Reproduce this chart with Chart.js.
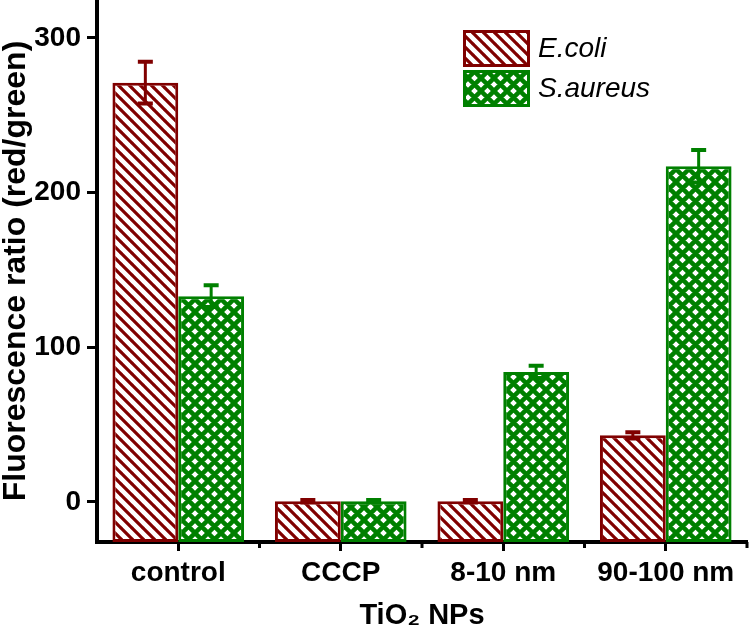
<!DOCTYPE html>
<html>
<head>
<meta charset="utf-8">
<script src="https://cdn.jsdelivr.net/npm/chart.js@4"></script>
<style>
  body { margin: 0; background: #fff; }
</style>
</head>
<body>
<canvas id="barChart" width="750" height="640"></canvas>
<script>
const categories = ['control', 'CCCP', '8-10 nm', '90-100 nm'];
const ecoliValues = [271, 0.3, 0.3, 43];
const ecoliErrors = [13.5, 0.8, 0.8, 2];
const saureusValues = [133, 0.3, 84, 217];
const saureusErrors = [7, 0.8, 4, 10.5];
const yTicks = [0, 100, 200, 300];
const Y_MIN = -26;
const Y_MAX = 324.5;

const RED = '#800000';
const GREEN = '#008000';
const FONT = '"Liberation Sans", Arial, sans-serif';

// hatch fills like the origin plot
function makeHatch(color, size, width, cross) {
  const c = document.createElement('canvas');
  c.width = size;
  c.height = size;
  const g = c.getContext('2d');
  g.fillStyle = '#fff';
  g.fillRect(0, 0, size, size);
  g.strokeStyle = color;
  g.lineWidth = width;
  g.beginPath();
  for (const k of [-size, 0, size]) {
    g.moveTo(k - 1, -1);
    g.lineTo(k + size + 1, size + 1);
    if (cross) {
      g.moveTo(k - 1, size + 1);
      g.lineTo(k + size + 1, -1);
    }
  }
  g.stroke();
  return g.createPattern(c, 'repeat');
}

const errorBars = {
  id: 'errorBars',
  afterDatasetsDraw(chart) {
    const ctx = chart.ctx;
    const y = chart.scales.y;
    chart.data.datasets.forEach((ds, i) => {
      const meta = chart.getDatasetMeta(i);
      meta.data.forEach((bar, j) => {
        const v = ds.data[j];
        const e = ds.errors[j];
        const top = y.getPixelForValue(v + e);
        const bot = y.getPixelForValue(v - e);
        ctx.save();
        ctx.strokeStyle = ds.borderColor;
        ctx.lineWidth = 3;
        ctx.beginPath();
        ctx.moveTo(bar.x, top);
        ctx.lineTo(bar.x, bot);
        ctx.stroke();
        ctx.lineWidth = 4;
        ctx.beginPath();
        ctx.moveTo(bar.x - 7.5, top);
        ctx.lineTo(bar.x + 7.5, top);
        ctx.moveTo(bar.x - 7.5, bot);
        ctx.lineTo(bar.x + 7.5, bot);
        ctx.stroke();
        ctx.restore();
      });
    });
  }
};

const xMinorTicks = {
  id: 'xMinorTicks',
  afterDraw(chart) {
    const ctx = chart.ctx;
    const xs = chart.scales.x;
    const n = chart.data.labels.length;
    const step = (xs.right - xs.left) / n;
    ctx.save();
    ctx.strokeStyle = '#000';
    ctx.lineWidth = 3;
    ctx.beginPath();
    for (let i = 1; i <= n; i++) {
      const x = xs.left + i * step;
      ctx.moveTo(x, xs.top);
      ctx.lineTo(x, xs.top + 6);
    }
    ctx.stroke();
    ctx.restore();
  }
};

const hatchLegend = {
  id: 'hatchLegend',
  afterDraw(chart) {
    const ctx = chart.ctx;
    ctx.save();
    chart.data.datasets.forEach((ds, i) => {
      const x = 463, y = 30 + i * 40, w = 67, h = 37;
      ctx.fillStyle = ds.backgroundColor;
      ctx.fillRect(x, y, w, h);
      ctx.strokeStyle = ds.borderColor;
      ctx.lineWidth = 3;
      ctx.strokeRect(x + 1.5, y + 1.5, w - 3, h - 3);
      ctx.fillStyle = '#000';
      ctx.font = 'italic 28px ' + FONT;
      ctx.textBaseline = 'middle';
      ctx.textAlign = 'left';
      ctx.fillText(ds.label, 538, y + h / 2 + 1);
    });
    ctx.restore();
  }
};

Chart.defaults.font.family = FONT;
Chart.defaults.color = '#000';

const ctx = document.getElementById('barChart').getContext('2d');
new Chart(ctx, {
  type: 'bar',
  data: {
    labels: categories,
    datasets: [
      {
        label: 'E.coli',
        data: ecoliValues,
        errors: ecoliErrors,
        base: Y_MIN,
        backgroundColor: makeHatch(RED, 11, 3.2, false),
        borderColor: RED,
        borderWidth: 3,
        borderSkipped: false
      },
      {
        label: 'S.aureus',
        data: saureusValues,
        errors: saureusErrors,
        base: Y_MIN,
        backgroundColor: makeHatch(GREEN, 13, 4.5, true),
        borderColor: GREEN,
        borderWidth: 3,
        borderSkipped: false
      }
    ]
  },
  options: {
    responsive: false,
    animation: false,
    categoryPercentage: 0.81,
    barPercentage: 1.0,
    layout: { padding: { left: 0, right: 3, top: 0, bottom: 0 } },
    plugins: {
      legend: { display: false },
      tooltip: { enabled: false }
    },
    scales: {
      x: {
        afterFit(s) { s.height = 98; s.paddingLeft = 0; s.paddingRight = 0; },
        border: { display: true, color: '#000', width: 4 },
        grid: {
          offset: false,
          drawOnChartArea: false,
          drawTicks: true,
          tickLength: 9,
          tickWidth: 3,
          tickColor: '#000'
        },
        ticks: {
          color: '#000',
          font: { size: 28, weight: 'bold' },
          padding: 5,
          maxRotation: 0,
          autoSkip: false
        },
        title: {
          display: true,
          text: 'TiO₂ NPs',
          color: '#000',
          font: { size: 29, weight: 'bold', lineHeight: 1 },
          padding: { top: 0, bottom: 10 }
        }
      },
      y: {
        min: Y_MIN,
        max: Y_MAX,
        afterBuildTicks(s) { s.ticks = yTicks.map(v => ({ value: v })); },
        afterFit(s) { s.width = 97; s.paddingTop = 0; s.paddingBottom = 0; },
        border: { display: true, color: '#000', width: 4 },
        grid: {
          drawOnChartArea: false,
          drawTicks: true,
          tickLength: 10,
          tickWidth: 3,
          tickColor: '#000'
        },
        ticks: {
          color: '#000',
          font: { size: 28, weight: 'bold' },
          padding: 6
        },
        title: {
          display: true,
          text: 'Fluorescence ratio (red/green)',
          color: '#000',
          font: { size: 32, weight: 'bold', lineHeight: 1 },
          padding: 0
        }
      }
    }
  },
  plugins: [errorBars, xMinorTicks, hatchLegend]
});
</script>
</body>
</html>
